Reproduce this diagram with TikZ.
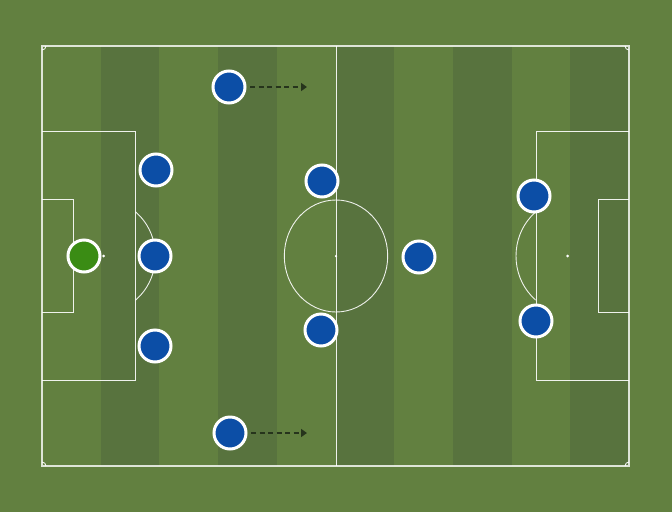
\documentclass[tikz,border=0pt]{standalone}
\usetikzlibrary{arrows.meta}
\definecolor{grassbg}{RGB}{98,128,64}
\definecolor{grassdark}{RGB}{88,115,62}
\definecolor{pblue}{RGB}{12,78,166}
\definecolor{pgreen}{RGB}{58,140,20}
\definecolor{arrowc}{RGB}{38,52,28}
\tikzset{
  x=1pt, y=-1pt,
  outerline/.style={draw=white, draw opacity=0.8, line width=1.3pt},
  pline/.style={draw=white, draw opacity=0.9, line width=0.9pt},
  player/.style={circle, draw=white, line width=3pt, minimum size=32pt, inner sep=0pt},
  blueplayer/.style={player, fill=pblue},
  gk/.style={player, fill=pgreen},
  run/.style={draw=arrowc, line width=2.5pt, dash pattern=on 5pt off 3.5pt, shorten <=3.5pt,
    -{Triangle[length=6pt,width=8pt]}},
  spotdot/.style={fill=white, circle, inner sep=0pt, minimum size=3pt}
}
\begin{document}
\begin{tikzpicture}
\useasboundingbox (0,0) rectangle (672,512);
\fill[grassbg] (0,0) rectangle (672,512);
% stripes
\foreach \i in {1,3,5,7,9} {
  \fill[grassdark] ({42+\i*58.7},46) rectangle ({42+(\i+1)*58.7},466);
}
% pitch outline
\draw[outerline] (42,46) rectangle (629,466);
\draw[pline] (336,46) -- (336,466);
% center circle
\draw[pline] (336,256) ellipse [x radius=51.7, y radius=56];
\node[spotdot, minimum size=2.5pt] (cspot) at (336,256) {};
% left boxes
\draw[pline] (42,131) -- (135,131) -- (135,380) -- (42,380);
\draw[pline] (42,199) -- (73,199) -- (73,312) -- (42,312);
\node[spotdot] (lspot) at (103.7,256) {};
\begin{scope}
  \clip (135.4,46) rectangle (336,466);
  \draw[pline] (103.7,256) ellipse [x radius=51.7, y radius=56];
\end{scope}
% right boxes
\draw[pline] (629,131) -- (536,131) -- (536,380) -- (629,380);
\draw[pline] (629,199) -- (598,199) -- (598,312) -- (629,312);
\node[spotdot] (rspot) at (567.7,256) {};
\begin{scope}
  \clip (336,46) rectangle (535.6,466);
  \draw[pline] (567.7,256) ellipse [x radius=51.7, y radius=56];
\end{scope}
% corner arcs
\draw[pline] (46,46) arc[start angle=0, end angle=-90, radius=4pt];
\draw[pline] (625,46) arc[start angle=180, end angle=270, radius=4pt];
\draw[pline] (46,466) arc[start angle=0, end angle=90, radius=4pt];
\draw[pline] (625,466) arc[start angle=180, end angle=90, radius=4pt];
% players
\node[gk] (gk) at (84,256) {};
\node[blueplayer] (lb1) at (156,170) {};
\node[blueplayer] (lb2) at (155,256) {};
\node[blueplayer] (lb3) at (155,346) {};
\node[blueplayer] (w1) at (229,87) {};
\node[blueplayer] (w2) at (230,433) {};
\node[blueplayer] (m1) at (322,181) {};
\node[blueplayer] (m2) at (321,330) {};
\node[blueplayer] (f1) at (419,257) {};
\node[blueplayer] (r1) at (534,196) {};
\node[blueplayer] (r2) at (536,321) {};
% runs
\coordinate (t1) at (307,87);
\coordinate (t2) at (307,433);
\draw[run] (w1.east) -- (t1);
\draw[run] (w2.east) -- (t2);
\end{tikzpicture}
\end{document}
